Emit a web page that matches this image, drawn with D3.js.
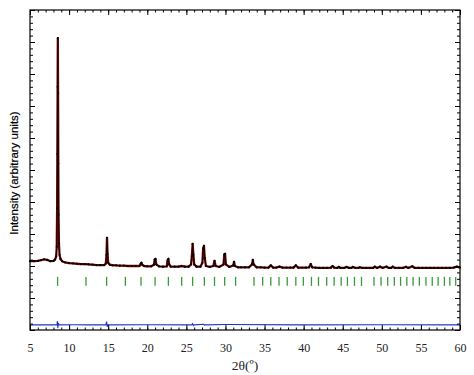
<!DOCTYPE html>
<html><head><meta charset="utf-8">
<script src="https://cdn.jsdelivr.net/npm/d3@7"></script>
<style>body{margin:0;background:#fff}svg{display:block}</style>
</head><body>
<svg id="c" width="474" height="375"></svg>
<script>
// [2θ, I_obs] (I_calc drawn through the same points)
const profile = [
[5.0,2.15],[5.5,2.15],[6.0,2.16],[6.4,2.18],[6.8,2.21],[7.2,2.19],[7.6,2.15],[8.0,2.16],[8.2,2.2],[8.35,2.3],[8.42,2.6],[8.47,3.8],[8.5,5.5],[8.53,7.6],[8.56,9.12],[8.59,7.4],[8.62,5.2],[8.65,3.6],[8.7,2.7],[8.78,2.35],[8.9,2.22],[9.1,2.15],[9.5,2.11],[10.0,2.09],[10.5,2.08],[11.0,2.07],[11.5,2.06],[12.0,2.06],[12.5,2.05],[13.0,2.04],[13.5,2.03],[14.0,2.03],[14.5,2.03],[14.7,2.08],[14.78,2.35],[14.85,2.88],[14.92,2.38],[15.0,2.1],[15.2,2.04],[15.6,2.02],[16.0,2.02],[16.5,2.01],[17.0,2.01],[17.5,2.0],[18.0,2.0],[18.5,2.0],[19.0,2.0],[19.15,2.06],[19.25,2.1],[19.35,2.04],[19.6,2.0],[20.0,1.99],[20.5,1.99],[20.85,2.04],[20.95,2.2],[21.05,2.22],[21.15,2.05],[21.5,1.99],[22.0,1.98],[22.5,1.99],[22.6,2.18],[22.7,2.22],[22.8,2.05],[23.0,1.98],[23.5,1.98],[24.0,1.98],[24.4,2.0],[24.8,1.98],[25.3,1.98],[25.6,2.05],[25.7,2.3],[25.8,2.69],[25.9,2.35],[26.0,2.05],[26.3,1.98],[26.8,1.98],[27.05,2.1],[27.15,2.55],[27.25,2.63],[27.35,2.25],[27.5,2.0],[28.0,1.97],[28.45,2.0],[28.6,2.16],[28.75,2.0],[29.2,1.97],[29.75,2.05],[29.85,2.36],[29.95,2.38],[30.05,2.05],[30.5,1.97],[31.0,2.02],[31.1,2.13],[31.2,2.0],[31.6,1.96],[32.0,1.96],[32.5,1.96],[33.0,1.96],[33.4,2.05],[33.5,2.19],[33.6,2.05],[34.0,1.96],[34.5,1.96],[35.0,1.95],[35.5,1.95],[35.8,2.02],[36.1,1.95],[36.5,1.95],[36.9,1.98],[37.3,1.95],[37.8,1.95],[38.3,1.95],[38.7,1.95],[39.0,2.02],[39.3,1.95],[39.8,1.95],[40.3,1.95],[40.7,1.96],[40.9,2.06],[41.1,1.96],[41.5,1.95],[42.0,1.94],[42.5,1.94],[43.0,1.94],[43.5,1.95],[43.7,2.0],[43.9,1.95],[44.3,1.94],[44.5,1.97],[44.7,1.94],[45.2,1.94],[45.5,1.97],[45.8,1.94],[46.1,1.94],[46.3,1.97],[46.6,1.94],[47.0,1.94],[47.2,1.96],[47.5,1.94],[48.0,1.94],[48.5,1.94],[48.9,1.94],[49.1,1.98],[49.4,1.94],[49.8,1.98],[50.1,1.94],[50.6,1.98],[50.9,1.94],[51.2,1.94],[51.4,1.98],[51.7,1.94],[52.2,1.94],[52.7,1.94],[53.1,1.97],[53.4,1.94],[53.9,1.99],[54.2,1.94],[54.7,1.94],[55.2,1.94],[55.7,1.94],[56.2,1.94],[56.7,1.94],[57.2,1.94],[57.7,1.94],[58.2,1.94],[58.7,1.94],[59.2,1.95],[59.6,1.98],[60.0,1.95]
];
// difference curve (obs - calc, shifted)
const difference = [
[5.0,0.16],[6.5,0.165],[8.0,0.16],[8.45,0.16],[8.5,0.28],[8.56,0.06],[8.62,0.22],[8.7,0.16],[10.5,0.165],[12.5,0.16],[14.7,0.16],[14.8,0.26],[14.88,0.1],[14.95,0.16],[20.0,0.165],[25.7,0.16],[25.8,0.2],[25.9,0.14],[26.0,0.16],[27.2,0.18],[27.3,0.15],[27.4,0.16],[30.0,0.17],[40.0,0.16],[50.0,0.165],[60.0,0.16]
];
// Bragg reflection positions (2θ)
const braggPositions = [8.53,12.16,14.8,17.2,19.2,21.0,22.7,24.4,25.8,27.3,28.6,29.9,31.3,33.65,34.76,35.8,36.85,37.9,39.0,39.96,41.0,41.9,42.95,43.9,44.8,45.6,46.5,47.4,49.0,49.9,50.75,51.6,52.4,53.2,54.0,54.8,55.65,56.45,57.2,58.0,58.7,59.45];
const xTickValues = [5,10,15,20,25,30,35,40,45,50,55,60];
const xTitle = "2θ(º)";
const yTitle = "Intensity (arbitrary units)";

const svg = d3.select("#c");
const L=30, R=460, T=10, B=330;
const x = d3.scaleLinear().domain([5,60]).range([L,R]);
const y = d3.scaleLinear().domain([0,10]).range([B,T]);
const braggTop = 1.66, braggBottom = 1.38;

// data
const line = d3.line().x(d=>x(d[0])).y(d=>y(d[1]));
svg.append("path").datum(profile).attr("d",line)
  .attr("fill","none").attr("stroke","#8b0a0a").attr("stroke-width",2.3).attr("stroke-linejoin","round");
svg.append("path").datum(profile).attr("d",line)
  .attr("fill","none").attr("stroke","#000").attr("stroke-width",1.1).attr("stroke-opacity",0.85);
svg.append("g").selectAll("circle").data(profile).join("circle")
  .attr("cx",d=>x(d[0])).attr("cy",d=>y(d[1])).attr("r",1.1).attr("fill","#000");

svg.append("g").selectAll("line").data(braggPositions).join("line")
  .attr("x1",d=>x(d)).attr("x2",d=>x(d)).attr("y1",y(braggTop)).attr("y2",y(braggBottom))
  .attr("stroke","#3a9a3a").attr("stroke-width",1.3);

svg.append("path").datum(difference).attr("d",line)
  .attr("fill","none").attr("stroke","#2233cc").attr("stroke-width",1.1);

// axes (ticks inward on all four sides)
const minorX = d3.range(5,60.01,1), minorY = d3.range(0,10.01,0.2), majorY = d3.range(0,10.01,1);
function clean(g){g.select(".domain").remove(); g.selectAll("line").attr("stroke","#000");}
svg.append("g").attr("transform",`translate(0,${B})`)
  .call(d3.axisBottom(x).tickValues(minorX).tickSize(-2.5).tickFormat("")).call(clean);
svg.append("g").attr("transform",`translate(0,${B})`)
  .call(d3.axisBottom(x).tickValues(xTickValues).tickSize(-5).tickPadding(13).tickFormat(d3.format("d")))
  .call(clean)
  .call(g=>g.selectAll("text").attr("font-family","'Liberation Serif','Times New Roman',serif").attr("font-size",12).attr("fill","#222"));
svg.append("g").attr("transform",`translate(0,${T})`)
  .call(d3.axisTop(x).tickValues(minorX).tickSize(-2.5).tickFormat("")).call(clean);
svg.append("g").attr("transform",`translate(0,${T})`)
  .call(d3.axisTop(x).tickValues(xTickValues).tickSize(-5).tickFormat("")).call(clean);
svg.append("g").attr("transform",`translate(${L},0)`)
  .call(d3.axisLeft(y).tickValues(minorY).tickSize(-3).tickFormat("")).call(clean);
svg.append("g").attr("transform",`translate(${L},0)`)
  .call(d3.axisLeft(y).tickValues(majorY).tickSize(-5).tickFormat("")).call(clean);
svg.append("g").attr("transform",`translate(${R},0)`)
  .call(d3.axisRight(y).tickValues(minorY).tickSize(-3).tickFormat("")).call(clean);
svg.append("g").attr("transform",`translate(${R},0)`)
  .call(d3.axisRight(y).tickValues(majorY).tickSize(-5).tickFormat("")).call(clean);

svg.append("rect").attr("x",L).attr("y",T).attr("width",R-L).attr("height",B-T)
  .attr("fill","none").attr("stroke","#000").attr("stroke-width",1.2);

svg.append("text").attr("x",(L+R)/2).attr("y",370).attr("text-anchor","middle")
  .attr("font-family","'Liberation Serif','Times New Roman',serif").attr("font-size",13.5).attr("fill","#222").text(xTitle);
svg.append("text").attr("transform",`translate(18,${(T+B)/2+3}) rotate(-90)`).attr("text-anchor","middle")
  .attr("font-family","'Liberation Sans',Arial,sans-serif").attr("font-size",11.5).attr("fill","#000").attr("stroke","#000").attr("stroke-width",0.2).text(yTitle);
</script>
</body></html>
